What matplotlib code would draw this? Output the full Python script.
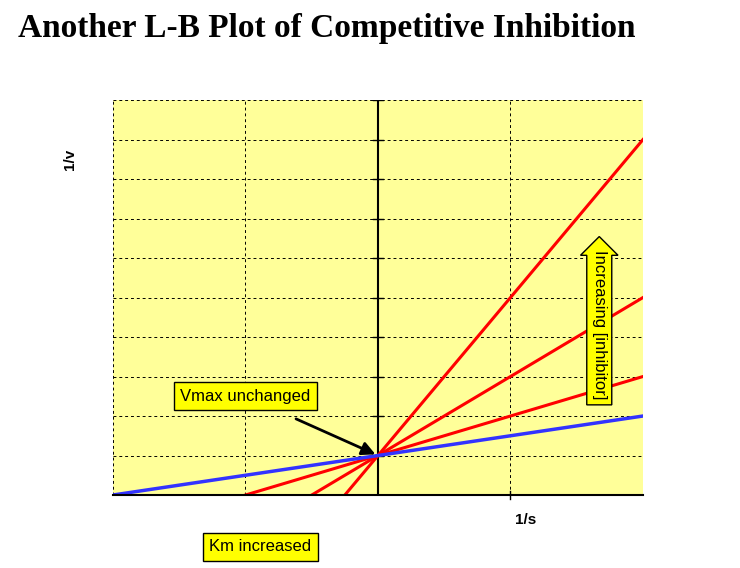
import matplotlib.pyplot as plt
import numpy as np

plt.rcParams['font.family'] = ['Liberation Sans', 'DejaVu Sans']

# Lineweaver-Burk lines: 1/v = slope * (1/s) + 1/Vmax
x_range = [-2, 2]
vmax_inv = 1.0
blue_slope = 0.5
red_slopes = [1, 2, 4]

fig = plt.figure(figsize=(7.4, 5.68), dpi=100)
ax = fig.add_axes([0.1527, 0.1285, 0.7162, 0.6954])
ax.set_facecolor('#ffff99')
ax.set_xlim(-2, 2)
ax.set_ylim(0, 10)

ax.set_xticks(np.arange(-2, 2.01, 1))
ax.set_yticks(np.arange(0, 10.01, 1))
ax.grid(True, color='black', linestyle=(0, (3, 3)), linewidth=0.7)
ax.set_xticklabels([])
ax.set_yticklabels([])
ax.tick_params(length=0)
for s in ['top', 'right', 'left']:
    ax.spines[s].set_visible(False)
ax.spines['bottom'].set_linewidth(1.5)
ax.axvline(0, color='black', linewidth=1.5)
for yy in range(1, 11):
    ax.plot([-0.04, 0.04], [yy, yy], color='black', linewidth=1)
ax.plot([1, 1], [-0.1, 0.1], color='black', linewidth=1, clip_on=False)

xs = np.array(x_range, dtype=float)
for k in red_slopes:
    ax.plot(xs, k * xs + vmax_inv, color='red', linewidth=2.2)
ax.plot(xs, blue_slope * xs + vmax_inv, color='#3333ff', linewidth=2.5)

box = dict(boxstyle='square,pad=0.4', facecolor='#ffff00', edgecolor='black')
ax.annotate('Vmax unchanged', xy=(0, 1), xytext=(-1, 2.5), fontsize=12,
            ha='center', va='center', bbox=box,
            arrowprops=dict(arrowstyle='-|>', color='black', lw=2, mutation_scale=20,
                            shrinkA=14, shrinkB=2))
fig.text(0.352, 0.037, 'Km increased', fontsize=12, ha='center', va='center', bbox=box)
ax.text(1.67, 4.3, 'Increasing [inhibitor]', rotation=-90, fontsize=12,
        ha='center', va='center',
        bbox=dict(boxstyle='larrow,pad=0.3', facecolor='#ffff00', edgecolor='black'))

fig.text(0.095, 0.72, '1/v', rotation=90, fontsize=11, fontweight='bold',
         ha='center', va='center')
fig.text(0.71, 0.085, '1/s', fontsize=11, fontweight='bold', ha='center', va='center')
fig.text(0.025, 0.95, 'Another L-B Plot of Competitive Inhibition', fontsize=24,
         fontweight='bold', family='Liberation Serif', ha='left', va='center')

fig.savefig('out.png', dpi=100)
